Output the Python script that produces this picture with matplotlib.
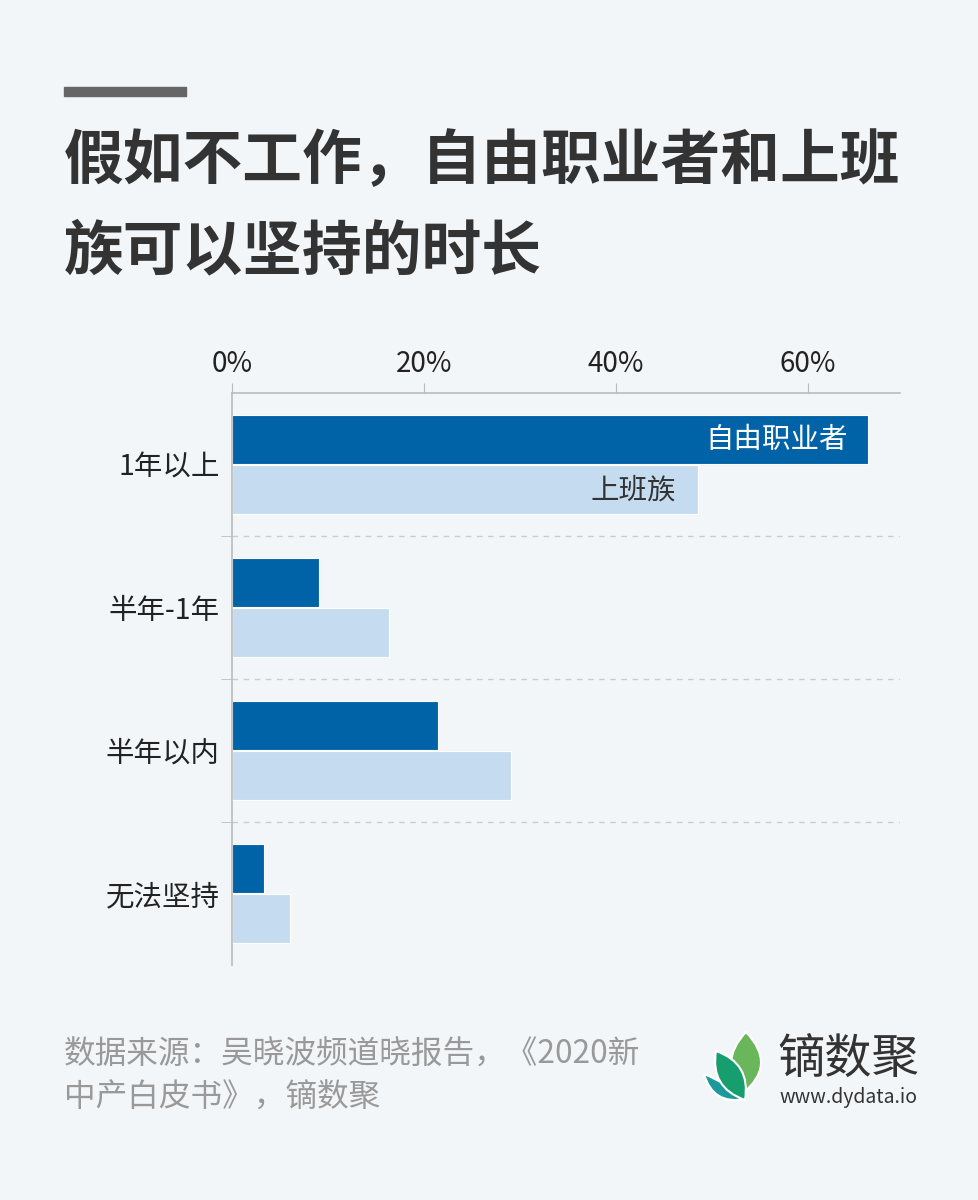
import matplotlib
matplotlib.use("Agg")
import matplotlib.pyplot as plt
import numpy as np
from matplotlib.path import Path
from matplotlib.patches import PathPatch, Rectangle

plt.rcParams["font.family"] = ["Noto Sans CJK SC", "DejaVu Sans"]

# data (percent)
categories = ["1年以上", "半年-1年", "半年以内", "无法坚持"]
freelancer = [66.3, 9.1, 21.5, 3.3]
office = [48.6, 16.4, 29.1, 6.0]
series_names = ["自由职业者", "上班族"]
x_ticks = [0, 20, 40, 60]

BG = "#f3f6f9"
DARK = "#0063a8"
LIGHT = "#c5dcf0"
AXIS = "#bbbbbb"

W, H = 979, 1200
fig = plt.figure(figsize=(W / 100, H / 100), dpi=100, facecolor=BG)

# main chart axes
ax = fig.add_axes([232 / W, 1 - 965 / H, 668 / W, 572 / H])
ax.set_facecolor(BG)
y = np.arange(len(categories))
bh = 0.343
ax.barh(y - bh / 2 - 0.005, freelancer, height=bh, color=DARK, edgecolor="white", linewidth=0.8)
ax.barh(y + bh / 2 + 0.005, office, height=bh, color=LIGHT, edgecolor="white", linewidth=0.8)

ax.set_xlim(0, 69.6)
ax.set_ylim(3.5, -0.5)
ax.xaxis.tick_top()
ax.set_xticks(x_ticks)
ax.set_xticklabels([f"{v}%" for v in x_ticks], fontsize=20, color="#222222")
ax.tick_params(axis="x", length=7, color=AXIS, pad=3)
ax.set_yticks(y)
ax.set_yticklabels(categories, fontsize=20.5, color="#222222")
ax.tick_params(axis="y", which="major", length=0, pad=9)
ax.set_yticks([0.5, 1.5, 2.5], minor=True)
ax.tick_params(axis="y", which="minor", length=8, color=AXIS)
for b in [0.5, 1.5, 2.5]:
    ax.axhline(b, color="#cccccc", lw=1, ls=(0, (4, 4)), zorder=0)
for s in ["right", "bottom"]:
    ax.spines[s].set_visible(False)
for s in ["top", "left"]:
    ax.spines[s].set_color(AXIS)
    ax.spines[s].set_linewidth(1.2)

# series labels inside the first category bars
ax.text(freelancer[0] - 2.1, -bh / 2, series_names[0], color="white", fontsize=20.5,
        ha="right", va="center")
ax.text(office[0] - 2.3, bh / 2 + 0.01, series_names[1], color="#333333", fontsize=20.5,
        ha="right", va="center")

# decoration overlay in pixel coords
ov = fig.add_axes([0, 0, 1, 1], zorder=-1)
ov.set_xlim(0, W)
ov.set_ylim(H, 0)
ov.axis("off")
ov.add_patch(Rectangle((64, 87), 122, 9, color="#666666"))

fig.text(64 / W, 1 - 162 / H, "假如不工作，自由职业者和上班", fontsize=43, fontweight="bold",
         color="#333333", va="center", ha="left")
fig.text(64 / W, 1 - 252 / H, "族可以坚持的时长", fontsize=43, fontweight="bold",
         color="#333333", va="center", ha="left")

fig.text(64 / W, 1 - 1055 / H, "数据来源：吴晓波频道晓报告，《2020新", fontsize=22.8,
         color="#999999", va="center", ha="left")
fig.text(64 / W, 1 - 1098 / H, "中产白皮书》，镝数聚", fontsize=22.8,
         color="#999999", va="center", ha="left")


def leaf(p0, p1, bulge1, bulge2, color):
    p0 = np.array(p0, float)
    p1 = np.array(p1, float)
    d = p1 - p0
    n = np.array([-d[1], d[0]]) / np.linalg.norm(d)
    m = (p0 + p1) / 2
    c1 = m + n * bulge1
    c2 = m - n * bulge2
    verts = [p0, c1, p1, c2, p0, p0]
    codes = [Path.MOVETO, Path.CURVE3, Path.CURVE3, Path.CURVE3, Path.CURVE3, Path.CLOSEPOLY]
    ov.add_patch(PathPatch(Path(verts, codes), facecolor=color, edgecolor="white", linewidth=1.5))


leaf((746, 1032), (742, 1094), 26, 34, "#6ab75b")
leaf((704, 1074), (745, 1099), 22, 4, "#1c9a9a")
leaf((716, 1051), (745, 1100), 24, 24, "#179e6e")

fig.text(777 / W, 1 - 1060 / H, "镝数聚", fontsize=34, color="#333333", va="center", ha="left")
fig.text(779 / W, 1 - 1097 / H, "www.dydata.io", fontsize=14, color="#333333", va="center", ha="left")

fig.savefig("out.png", dpi=100, facecolor=BG)
